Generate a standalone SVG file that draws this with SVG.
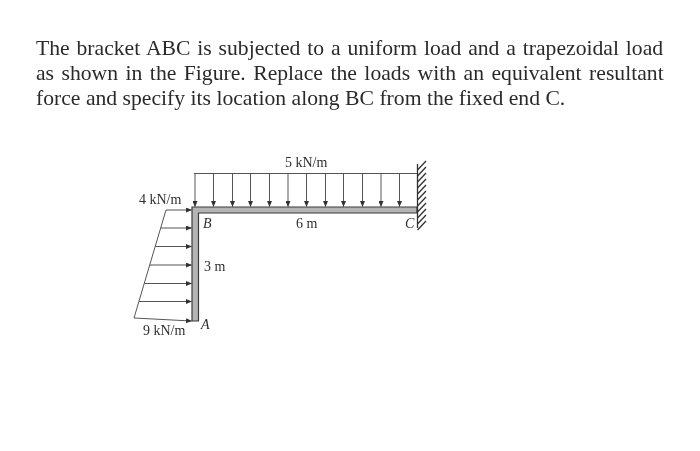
<svg xmlns="http://www.w3.org/2000/svg" width="700" height="451" viewBox="0 0 700 451">
<style>
.q{font-family:"Liberation Serif","Times New Roman",serif;font-size:21.67px;fill:#2b2b2b}
.l{font-family:"Liberation Serif","Times New Roman",serif;font-size:14px;fill:#2e2e2e}
.i{font-style:italic}
.w{fill:none;stroke:#555;stroke-width:1}
.h{fill:none;stroke:#333;stroke-width:1.3}
</style>
<defs>
<marker id="a" markerUnits="userSpaceOnUse" markerWidth="6" markerHeight="5" refX="5.500" refY="2.500" orient="auto"><path d="M0 0L6 2.500L0 5Z" fill="#333"/></marker>
<filter id="s" x="-2%" y="-2%" width="104%" height="104%"><feGaussianBlur stdDeviation="0.4"/></filter>
</defs>
<rect width="700" height="451" fill="#fff"/>
<g filter="url(#s)">
<g id="statement">
<text class="q" x="36" y="55" word-spacing="1.440">The bracket ABC is subjected to a uniform load and a trapezoidal load</text>
<text class="q" x="36" y="80" word-spacing="2.060">as shown in the Figure. Replace the loads with an equivalent resultant</text>
<text class="q" x="36" y="104.500">force and specify its location along BC from the fixed end C.</text>
</g>
<g id="bracket">
<path d="M192 321V207H417V213H198.500V321Z" fill="#b4b4b4" stroke="#3a3a3a" stroke-width="1.200"/>
</g>
<g id="wall">
<path class="h" d="M417.500 164V228"/>
<path class="h" d="M417.500 170L426 161M417.500 176L426 167M417.500 182L426 173M417.500 188L426 179M417.500 194L426 185M417.500 200L426 191M417.500 206L426 197M417.500 212L426 203M417.500 218L426 209M417.500 224L426 215M417.500 230L426 221"/>
</g>
<g id="connectors">
<path class="w" d="M194 173.500H417"/>
<g class="w">
<path marker-end="url(#a)" d="M195 173.500V206.500"/>
<path marker-end="url(#a)" d="M213.500 173.500V206.500"/>
<path marker-end="url(#a)" d="M232.500 173.500V206.500"/>
<path marker-end="url(#a)" d="M250.500 173.500V206.500"/>
<path marker-end="url(#a)" d="M269.500 173.500V206.500"/>
<path marker-end="url(#a)" d="M288 173.500V206.500"/>
<path marker-end="url(#a)" d="M306.500 173.500V206.500"/>
<path marker-end="url(#a)" d="M325.500 173.500V206.500"/>
<path marker-end="url(#a)" d="M343.500 173.500V206.500"/>
<path marker-end="url(#a)" d="M362.500 173.500V206.500"/>
<path marker-end="url(#a)" d="M381 173.500V206.500"/>
<path marker-end="url(#a)" d="M399.500 173.500V206.500"/>
</g>
<path class="w" d="M166 210L134 318"/>
<g class="w">
<path marker-end="url(#a)" d="M166 210H191.500"/>
<path marker-end="url(#a)" d="M161 228H191.500"/>
<path marker-end="url(#a)" d="M155.500 246.500H191.500"/>
<path marker-end="url(#a)" d="M150 265H191.500"/>
<path marker-end="url(#a)" d="M144.500 283.500H191.500"/>
<path marker-end="url(#a)" d="M139 301.500H191.500"/>
<path marker-end="url(#a)" d="M134 318L191.500 321"/>
</g>
</g>
<g id="labels">
<text class="l" x="139" y="204">4 kN/m</text>
<text class="l" x="143" y="335">9 kN/m</text>
<text class="l" x="285" y="167">5 kN/m</text>
<text class="l" x="296" y="228">6 m</text>
<text class="l" x="204" y="271">3 m</text>
<text class="l i" x="203" y="228">B</text>
<text class="l i" x="201" y="329">A</text>
<text class="l i" x="405" y="228">C</text>
</g>
</g>
</svg>
